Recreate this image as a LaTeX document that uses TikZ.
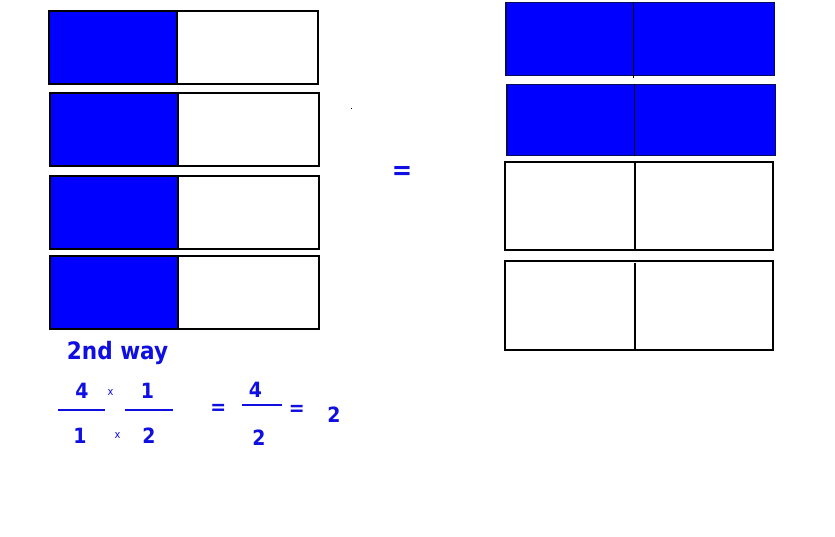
\documentclass[tikz,border=0pt]{standalone}
\usepackage{fontspec}
\setmainfont{DejaVu Sans Condensed}[BoldFont={* Bold}]
\definecolor{boxblue}{RGB}{0,0,255}
\definecolor{txtblue}{RGB}{15,15,225}
\definecolor{navy}{RGB}{10,10,90}
\tikzset{
  x=1pt, y=-1pt,
  outline/.style={draw=black, line width=1.7pt},
  blueoutline/.style={draw=navy, line width=1.4pt},
  divider/.style={draw=black, line width=1.2pt},
  txt/.style={text=txtblue, inner sep=0pt, font=\bfseries\fontsize{21}{23}\selectfont},
  smallx/.style={text=txtblue, inner sep=0pt, font=\fontsize{11}{12}\selectfont},
  fracline/.style={draw=txtblue, line width=2.4pt},
}
\begin{document}
\begin{tikzpicture}
\useasboundingbox (0,0) rectangle (835,537);
% left boxes
\foreach \n/\xa/\ya/\xs/\xb/\yb in {L1/49.3/11.3/176.7/317.7/84.3, L2/50/93.3/177.7/318.7/166, L3/50/176.3/177.7/318.7/249.3, L4/50/256.3/177.7/318.7/329.3}{
  \fill[boxblue] (\xa,\ya) rectangle (\xs,\yb);
  \draw[outline] (\xa,\ya) rectangle (\xb,\yb);
  \draw[outline] (\xs,\ya) -- (\xs,\yb);
}
% right blue boxes
\foreach \n/\xa/\ya/\xs/\xb/\yb/\ye in {R1/506/2.3/633.3/774.3/75.3/77.7, R2/507/84.3/634.3/775.7/155.7/155.7}{
  \fill[boxblue] (\xa,\ya) rectangle (\xb,\yb);
  \draw[blueoutline] (\xa,\ya) rectangle (\xb,\yb);
  \draw[divider] (\xs,\ya) -- (\xs,\ye);
}
% right white boxes
\foreach \n/\xa/\ya/\xs/\xb/\yb in {R3/505.3/161.7/635.3/772.7/250.3, R4/505.3/261.3/635.3/772.7/350.3}{
  \draw[outline] (\xa,\ya) rectangle (\xb,\yb);
  \draw[outline] (\xs,\ya+1.5) -- (\xs,\yb);
}
% big equals
\node[txt, font=\bfseries\fontsize{27}{30}\selectfont] (bigeq) at (402,172.7) {=};
% tiny mark
\draw[black, line width=0.8pt] (350.8,108.3) -- (352.4,108.3);
% 2nd way
\node[txt, anchor=base west, font=\bfseries\fontsize{24}{26}\selectfont] (way) at (66.7,359.3) {2nd way};
% fractions
\node[txt] (n1) at (82,390.8) {4};
\node[smallx] (x1) at (110.5,392.5) {x};
\node[txt] (n2) at (147.5,390.8) {1};
\node[txt] (d1) at (80,436.2) {1};
\node[smallx] (x2) at (117.5,435.5) {x};
\node[txt] (d2) at (149,436.2) {2};
\draw[fracline] (58.3,410) -- (105,410);
\draw[fracline] (125,410) -- (172.7,410);
\node[txt] (eq1) at (218.3,409.2) {=};
\node[txt] (n3) at (255.5,390) {4};
\draw[fracline] (241.7,405) -- (281.7,405);
\node[txt] (d3) at (259,437.5) {2};
\node[txt] (eq2) at (296.7,410) {=};
\node[txt] (res) at (334,414.5) {2};
\end{tikzpicture}
\end{document}
